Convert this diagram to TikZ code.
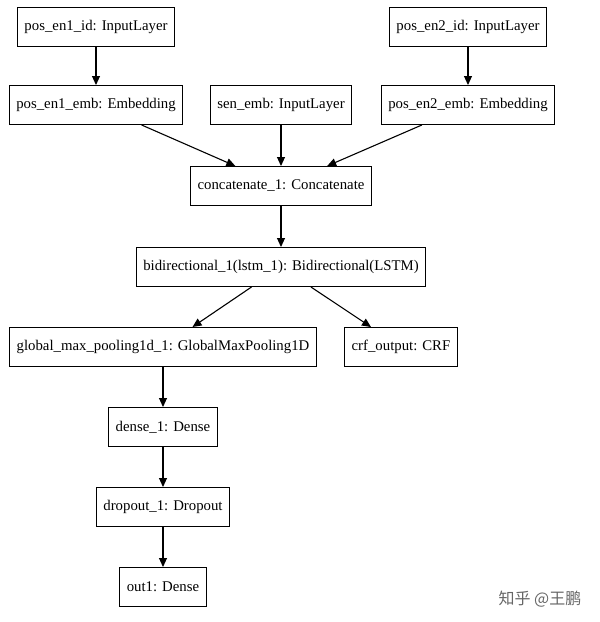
\documentclass[tikz,border=0pt]{standalone}
\usepackage{fontspec}
\setmainfont{Liberation Serif}
\newfontfamily\cjk{Noto Sans CJK SC}
\usetikzlibrary{positioning,arrows.meta}

\tikzset{layer/.style={draw,line width=1pt,minimum height=39pt,inner xsep=7pt,font=\fontsize{14.8}{17}\selectfont},
  link/.style={line width=1.1pt,-{Triangle[length=9pt,width=8pt]}}}

\begin{document}
\begin{tikzpicture}[x=1pt,y=-1pt]
\useasboundingbox (0,0) rectangle (600,622);

\node[layer] (en1id) at (96,27) {pos\_en1\_id: InputLayer};
\node[layer] (en2id) at (468,27) {pos\_en2\_id: InputLayer};
\node[layer] (en1emb) at (96,105) {pos\_en1\_emb: Embedding};
\node[layer] (senemb) at (281,105) {sen\_emb: InputLayer};
\node[layer] (en2emb) at (468,105) {pos\_en2\_emb: Embedding};
\node[layer] (concat) at (281,186) {concatenate\_1: Concatenate};
\node[layer] (bilstm) at (281,267) {bidirectional\_1(lstm\_1): Bidirectional(LSTM)};
\node[layer] (gmp) at (163,347) {global\_max\_pooling1d\_1: GlobalMaxPooling1D};
\node[layer] (crf) at (401,347) {crf\_output: CRF};
\node[layer] (dense) at (163,427) {dense\_1: Dense};
\node[layer] (drop) at (163,507) {dropout\_1: Dropout};
\node[layer] (out) at (163,587) {out1: Dense};

\draw[link] (en1id) -- (en1emb);
\draw[link] (en2id) -- (en2emb);
\draw[link] (en1emb) -- (concat);
\draw[link] (senemb) -- (concat);
\draw[link] (en2emb) -- (concat);
\draw[link] (concat) -- (bilstm);
\draw[link] (bilstm) -- (gmp);
\draw[link] (bilstm) -- (crf);
\draw[link] (gmp) -- (dense);
\draw[link] (dense) -- (drop);
\draw[link] (drop) -- (out);

% watermark
\node[text=gray!80!black,font=\cjk\fontsize{16}{18}\selectfont] (mark) at (540,599) {知乎 @王鹏};
\end{tikzpicture}
\end{document}
